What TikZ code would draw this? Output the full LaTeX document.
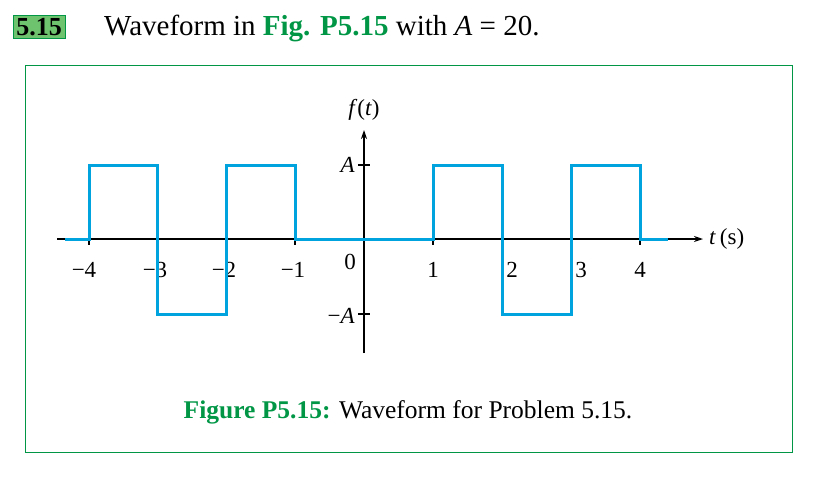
\documentclass[tikz,border=0pt]{standalone}
\usepackage{fontspec}
\setmainfont{Liberation Serif}
\usetikzlibrary{arrows.meta}
\definecolor{pgreen}{RGB}{0,150,70}
\definecolor{boxgreen}{RGB}{110,195,110}
\definecolor{wblue}{RGB}{0,163,222}
\tikzset{lbl/.style={font=\fontsize{23}{25}\selectfont, inner sep=1pt},
  wave/.style={wblue, line width=3pt},
  axis/.style={line width=1.3pt, -{Stealth[length=9pt,width=6pt]}}}
\begin{document}
\begin{tikzpicture}[x=1pt,y=-1pt]
\useasboundingbox (0,0) rectangle (824,480);
\node[fill=boxgreen, draw=pgreen, line width=0.6pt, inner sep=3pt, font=\fontsize{26}{28}\selectfont\bfseries, anchor=base west] (num) at (13,35) {5.15};
\node[font=\fontsize{29}{31}\selectfont, anchor=base west, inner sep=0pt] (title) at (104,35) {Waveform in \textcolor{pgreen}{\textbf{Fig. P5.15}} with \textit{A} = 20.};
\draw[pgreen, line width=1pt] (25,65) rectangle (792,452);
\coordinate (o) at (364,239);
\coordinate (tl) at (57,239);
\coordinate (tr) at (703,239);
\coordinate (vb) at (364,353);
\coordinate (vt) at (364,130);
\draw[axis] (tl) -- (tr);
\draw[axis] (vb) -- (vt);
\node[lbl, anchor=west] (tlab) at (708,239) {\textit{t}\,(s)};
\node[lbl] (flab) at (364,110) {\textit{f}(\textit{t})};
\draw[line width=1.2pt] (358,165) -- (370,165);
\draw[line width=1.2pt] (358,314) -- (370,314);
\node[lbl, anchor=east] (alab) at (356,165) {\textit{A}};
\node[lbl, anchor=east] (malab) at (356,316) {−\textit{A}};
\foreach \x in {89,157,226,295,433,502,571,640} \draw[line width=1.2pt] (\x,233) -- (\x,245);
\node[lbl] (m4) at (84,270) {−4};
\node[lbl] (m3) at (155,270) {−3};
\node[lbl] (m2) at (224,270) {−2};
\node[lbl] (m1) at (293,270) {−1};
\node[lbl] (z) at (350,262) {0};
\node[lbl] (p1) at (433,270) {1};
\node[lbl] (p2) at (512,270) {2};
\node[lbl] (p3) at (581,270) {3};
\node[lbl] (p4) at (640,270) {4};
\draw[wave] (65,239) -- (89,239) -- (89,165) -- (157,165) -- (157,314) -- (226,314) -- (226,165) -- (295,165) -- (295,239) -- (433,239) -- (433,165) -- (502,165) -- (502,314) -- (571,314) -- (571,165) -- (640,165) -- (640,239) -- (668,239);
\node[font=\fontsize{25.5}{28}\selectfont, anchor=base] (cap) at (408,418) {\textcolor{pgreen}{\textbf{Figure P5.15:}} Waveform for Problem 5.15.};
\end{tikzpicture}
\end{document}
